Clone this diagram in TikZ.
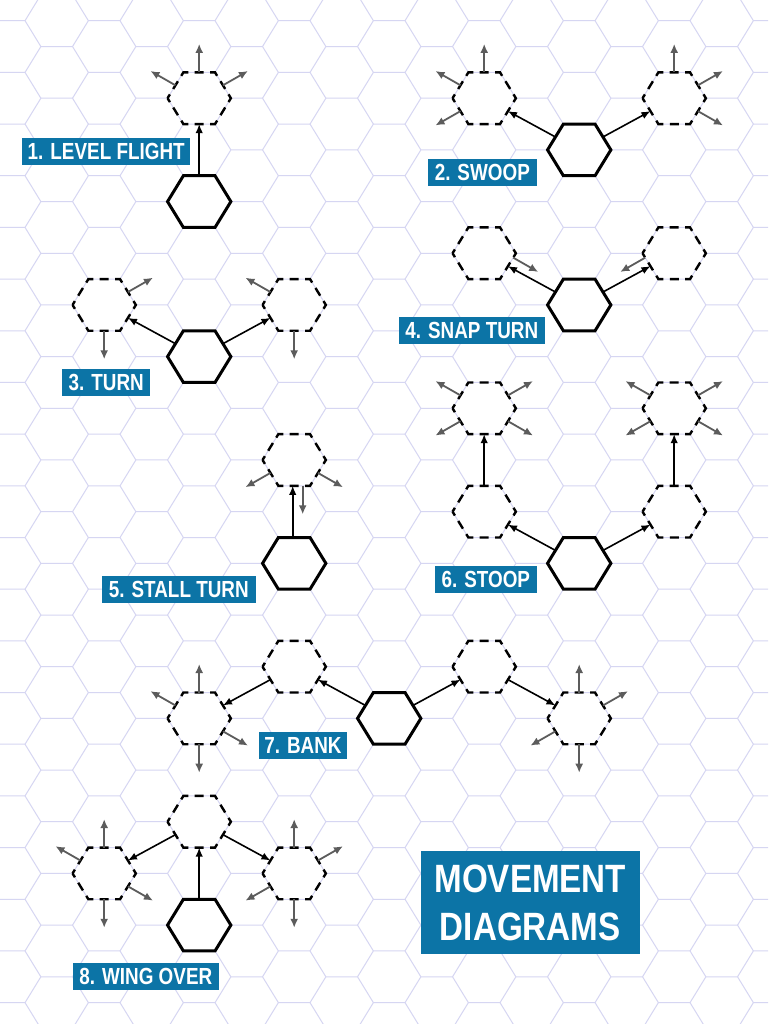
\documentclass[tikz,border=0pt]{standalone}
\usepackage{fontspec}
\usetikzlibrary{arrows.meta,calc}
\newfontfamily\labfont{Liberation Sans}[FakeStretch=0.81]
\newfontfamily\titfont{Liberation Sans}[FakeStretch=0.84]
\definecolor{boxblue}{RGB}{12,116,166}
\definecolor{gridlav}{RGB}{214,214,242}
\definecolor{arrgray}{RGB}{92,92,92}
\tikzset{
  pics/hexshape/.style={code={
    \draw[#1] (-31.67,0) -- (-15.83,-25.84) -- (15.83,-25.84) -- (31.67,0) -- (15.83,25.84) -- (-15.83,25.84) -- cycle;
    \coordinate (-n) at (0,-25.84);
    \coordinate (-s) at (0,25.84);
    \coordinate (-ne) at (23.75,-12.92);
    \coordinate (-se) at (23.75,12.92);
    \coordinate (-nw) at (-23.75,-12.92);
    \coordinate (-sw) at (-23.75,12.92);
    \coordinate (-tn) at (0,-54.34);
    \coordinate (-ts) at (0,54.34);
    \coordinate (-tne) at (48.75,-27.22);
    \coordinate (-tse) at (48.75,27.22);
    \coordinate (-tnw) at (-48.75,-27.22);
    \coordinate (-tsw) at (-48.75,27.22);
  }},
  solidline/.style={line width=3pt, line join=miter, black},
  dashline/.style={line width=2.4pt, line join=miter, black, dash pattern=on 9pt off 6.375pt, dash phase=4.5pt},
  blkarrow/.style={line width=1.6pt, black, -{Latex[length=9pt,width=7.5pt]}},
  gryarrow/.style={line width=1.8pt, arrgray, -{Latex[length=9pt,width=8pt]}},
  gridline/.style={line width=1pt, gridlav},
  labelbox/.style={fill=boxblue, text=white, inner sep=0pt, minimum height=27pt,
    font=\labfont\bfseries\fontsize{23.3}{28}\selectfont},
  titlebox/.style={fill=boxblue, text=white, inner sep=0pt, align=center,
    font=\titfont\bfseries\fontsize{39.5}{48.3}\selectfont}
}
\begin{document}
\begin{tikzpicture}[x=1pt,y=-1pt]
\useasboundingbox (0,0) rectangle (768,1024);
\fill[white] (0,0) rectangle (768,1024);
\begin{scope}
\clip (0,0) rectangle (768,1024);
% background hex grid
\foreach \c in {0,...,17}{
  \foreach \k in {-1,...,21}{
    \pgfmathsetmacro\gx{9.2+47.5*\c}
    \pgfmathsetmacro\gy{25.84*(2*\k+mod(\c,2))-5.14}
    \draw[gridline] (\gx-31.67,\gy) -- (\gx-15.83,\gy-25.84) -- (\gx+15.83,\gy-25.84) -- (\gx+31.67,\gy);
  }
}

% ---------- 1. LEVEL FLIGHT
\pic (S1) at (199.2,201.58) {hexshape=solidline};
\pic (D1) at (199.2,98.22) {hexshape=dashline};
\draw[blkarrow] (S1-n) -- (D1-s);
\draw[gryarrow] (D1-n) -- (D1-tn);
\draw[gryarrow] (D1-nw) -- (D1-tnw);
\draw[gryarrow] (D1-ne) -- (D1-tne);
\node[labelbox, minimum width=167.7pt] (T1) at (106.2,151.7) {1. LEVEL FLIGHT};

% ---------- 2. SWOOP
\pic (S2) at (579.2,149.9) {hexshape=solidline};
\pic (L2) at (484.2,98.22) {hexshape=dashline};
\pic (R2) at (674.2,98.22) {hexshape=dashline};
\draw[blkarrow] (S2-nw) -- (L2-se);
\draw[blkarrow] (S2-ne) -- (R2-sw);
\draw[gryarrow] (L2-n) -- (L2-tn);
\draw[gryarrow] (L2-nw) -- (L2-tnw);
\draw[gryarrow] (L2-sw) -- (L2-tsw);
\draw[gryarrow] (R2-n) -- (R2-tn);
\draw[gryarrow] (R2-ne) -- (R2-tne);
\draw[gryarrow] (R2-se) -- (R2-tse);
\node[labelbox, minimum width=108.7pt] (T2) at (482.3,172.7) {2. SWOOP};

% ---------- 3. TURN
\pic (S3) at (199.2,356.62) {hexshape=solidline};
\pic (L3) at (104.2,304.94) {hexshape=dashline};
\pic (R3) at (294.2,304.94) {hexshape=dashline};
\draw[blkarrow] (S3-nw) -- (L3-se);
\draw[blkarrow] (S3-ne) -- (R3-sw);
\draw[gryarrow] (L3-ne) -- (L3-tne);
\draw[gryarrow] (L3-s) -- (L3-ts);
\draw[gryarrow] (R3-nw) -- (R3-tnw);
\draw[gryarrow] (R3-s) -- (R3-ts);
\node[labelbox, minimum width=87.7pt] (T3) at (106.2,382.7) {3. TURN};

% ---------- 4. SNAP TURN
\pic (S4) at (579.2,304.94) {hexshape=solidline};
\pic (L4) at (484.2,253.26) {hexshape=dashline};
\pic (R4) at (674.2,253.26) {hexshape=dashline};
\draw[blkarrow] (S4-nw) -- (L4-se);
\draw[blkarrow] (S4-ne) -- (R4-sw);
\draw[gryarrow] ($(L4-se)+(5.24,-8.52)$) -- ($(L4-tse)+(5.24,-8.52)$);
\draw[gryarrow] ($(R4-sw)+(-5.24,-8.52)$) -- ($(R4-tsw)+(-5.24,-8.52)$);
\node[labelbox, minimum width=145.7pt] (T4) at (471.8,330.7) {4. SNAP TURN};

% ---------- 5. STALL TURN
\pic (S5) at (294.2,563.34) {hexshape=solidline};
\pic (D5) at (294.2,459.98) {hexshape=dashline};
\draw[blkarrow] ($(S5-n)+(-1.5,0)$) -- ($(D5-s)+(-1.5,0)$);
\draw[gryarrow] ($(D5-s)+(8.5,0)$) -- ($(D5-ts)+(8.5,0)$);
\draw[gryarrow] (D5-sw) -- (D5-tsw);
\draw[gryarrow] (D5-se) -- (D5-tse);
\node[labelbox, minimum width=154.3pt] (T5) at (178.8,589.3) {5. STALL TURN};

% ---------- 6. STOOP
\pic (S6) at (579.2,563.34) {hexshape=solidline};
\pic (LA6) at (484.2,511.66) {hexshape=dashline};
\pic (RA6) at (674.2,511.66) {hexshape=dashline};
\pic (LB6) at (484.2,408.3) {hexshape=dashline};
\pic (RB6) at (674.2,408.3) {hexshape=dashline};
\draw[blkarrow] (S6-nw) -- (LA6-se);
\draw[blkarrow] (S6-ne) -- (RA6-sw);
\draw[blkarrow] (LA6-n) -- (LB6-s);
\draw[blkarrow] (RA6-n) -- (RB6-s);
\foreach \h in {LB6,RB6}{
  \draw[gryarrow] (\h-nw) -- (\h-tnw);
  \draw[gryarrow] (\h-ne) -- (\h-tne);
  \draw[gryarrow] (\h-sw) -- (\h-tsw);
  \draw[gryarrow] (\h-se) -- (\h-tse);
}
\node[labelbox, minimum width=101.7pt] (T6) at (485.8,579) {6. STOOP};

% ---------- 7. BANK
\pic (S7) at (389.2,718.38) {hexshape=solidline};
\pic (LA7) at (294.2,666.7) {hexshape=dashline};
\pic (LB7) at (199.2,718.38) {hexshape=dashline};
\pic (RA7) at (484.2,666.7) {hexshape=dashline};
\pic (RB7) at (579.2,718.38) {hexshape=dashline};
\draw[blkarrow] (S7-nw) -- (LA7-se);
\draw[blkarrow] (LA7-sw) -- (LB7-ne);
\draw[blkarrow] (S7-ne) -- (RA7-sw);
\draw[blkarrow] (RA7-se) -- (RB7-nw);
\draw[gryarrow] (LB7-n) -- (LB7-tn);
\draw[gryarrow] (LB7-nw) -- (LB7-tnw);
\draw[gryarrow] (LB7-se) -- (LB7-tse);
\draw[gryarrow] (LB7-s) -- (LB7-ts);
\draw[gryarrow] (RB7-n) -- (RB7-tn);
\draw[gryarrow] (RB7-ne) -- (RB7-tne);
\draw[gryarrow] (RB7-sw) -- (RB7-tsw);
\draw[gryarrow] (RB7-s) -- (RB7-ts);
\node[labelbox, minimum width=87.4pt] (T7) at (303,745.3) {7. BANK};

% ---------- 8. WING OVER
\pic (S8) at (199.2,925.1) {hexshape=solidline};
\pic (T8) at (199.2,821.74) {hexshape=dashline};
\pic (L8) at (104.2,873.42) {hexshape=dashline};
\pic (R8) at (294.2,873.42) {hexshape=dashline};
\draw[blkarrow] (S8-n) -- (T8-s);
\draw[blkarrow] (T8-sw) -- (L8-ne);
\draw[blkarrow] (T8-se) -- (R8-nw);
\draw[gryarrow] (L8-n) -- (L8-tn);
\draw[gryarrow] (L8-nw) -- (L8-tnw);
\draw[gryarrow] (L8-se) -- (L8-tse);
\draw[gryarrow] (L8-s) -- (L8-ts);
\draw[gryarrow] (R8-n) -- (R8-tn);
\draw[gryarrow] (R8-ne) -- (R8-tne);
\draw[gryarrow] (R8-sw) -- (R8-tsw);
\draw[gryarrow] (R8-s) -- (R8-ts);
\node[labelbox, minimum width=146.3pt] (T8lab) at (145.8,976) {8. WING OVER};

% ---------- Title
\node[titlebox, minimum width=219.3pt, minimum height=102.7pt] (TT) at (530.3,902.7) {MOVEMENT\\DIAGRAMS};
\end{scope}
\end{tikzpicture}
\end{document}
